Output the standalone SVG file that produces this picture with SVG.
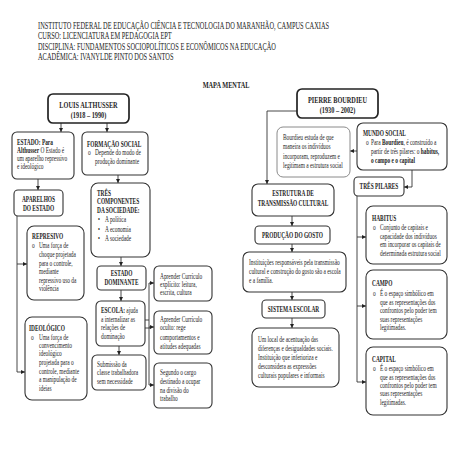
<svg xmlns="http://www.w3.org/2000/svg" width="452" height="452" viewBox="0 0 452 452">
<style>
.t{font-family:"Liberation Serif","Times New Roman",serif;font-size:7.5px;fill:#1e1e1e}
.h{font-family:"Liberation Serif","Times New Roman",serif;font-size:9.5px;fill:#1e1e1e}
.ti{font-family:"Liberation Serif","Times New Roman",serif;font-size:8.5px;font-weight:bold;fill:#1e1e1e}
.b{font-weight:bold}
.m{text-anchor:middle}
.box{fill:#fff;stroke:#333;stroke-width:1.1}
.root{fill:#fff;stroke:#222;stroke-width:1.7}
.lite{fill:#fff;stroke:#8a8a8a;stroke-width:1}
.c{fill:none;stroke:#333;stroke-width:0.9}
.ca{fill:none;stroke:#333;stroke-width:0.9;marker-end:url(#ah)}
</style>
<defs>
<marker id="ah" viewBox="0 0 6 6" refX="6" refY="3" markerWidth="4" markerHeight="4" markerUnits="userSpaceOnUse" orient="auto"><path d="M0,0 L6,3 L0,6 z" fill="#222"/></marker>
</defs>
<rect width="452" height="452" fill="#fff"/>

<g id="header">
<text class="h" transform="translate(38,0) scale(0.675,1)"><tspan x="0" y="29">INSTITUTO FEDERAL DE EDUCAÇÃO CIÊNCIA E TECNOLOGIA DO MARANHÃO, CAMPUS CAXIAS</tspan><tspan x="0" y="39.5">CURSO: LICENCIATURA EM PEDAGOGIA EPT</tspan><tspan x="0" y="50">DISCIPLINA: FUNDAMENTOS SOCIOPOLÍTICOS E ECONÔMICOS NA EDUCAÇÃO</tspan><tspan x="0" y="60.5">ACADÊMICA: IVANYLDE PINTO DOS SANTOS</tspan></text>
<text class="ti m" transform="translate(226,0) scale(0.74,1)" x="0" y="88">MAPA MENTAL</text>
</g>

<g id="connectors">
<line class="ca" x1="61" y1="123" x2="61" y2="132"/>
<line class="ca" x1="107" y1="123" x2="107" y2="132"/>
<line class="ca" x1="38" y1="179" x2="38" y2="190"/>
<line class="ca" x1="118" y1="175" x2="118" y2="183"/>
<line class="c" x1="17" y1="216" x2="17" y2="372"/>
<line class="ca" x1="17" y1="264" x2="27" y2="264"/>
<line class="ca" x1="17" y1="372" x2="25" y2="372"/>
<line class="ca" x1="121" y1="257" x2="121" y2="266"/>
<line class="ca" x1="121" y1="290" x2="121" y2="301"/>
<line class="ca" x1="119" y1="346" x2="119" y2="355"/>
<polyline class="c" points="145,320 149,320"/>
<polyline class="c" points="145,328 151,328"/>
<line class="c" x1="149" y1="283" x2="149" y2="385"/>
<line class="ca" x1="149" y1="283" x2="154" y2="283"/>
<line class="ca" x1="149" y1="327" x2="154" y2="327"/>
<line class="ca" x1="149" y1="385" x2="154" y2="385"/>
<polyline class="ca" points="297,111 267,111 267,184"/>
<line class="ca" x1="357" y1="151" x2="350" y2="151"/>
<polyline class="ca" points="412,170 412,187 404,187"/>
<line class="ca" x1="292" y1="216" x2="292" y2="226"/>
<line class="ca" x1="292" y1="244" x2="292" y2="252"/>
<line class="ca" x1="292" y1="292" x2="292" y2="300"/>
<line class="ca" x1="292" y1="318" x2="292" y2="328"/>
<line class="c" x1="357" y1="196" x2="357" y2="382"/>
<line class="ca" x1="357" y1="237" x2="366" y2="237"/>
<line class="ca" x1="357" y1="306" x2="366" y2="306"/>
<line class="ca" x1="357" y1="382" x2="366" y2="382"/>
</g>

<g id="althusser">
<rect class="root" x="48" y="94" width="81" height="29" rx="5"/>
<text class="ti m" transform="translate(88.5,0) scale(0.74,1)"><tspan x="0" y="108">LOUIS ALTHUSSER</tspan><tspan x="0" y="118">(1918 – 1990)</tspan></text>
</g>

<g id="estado">
<rect class="box" x="12" y="132" width="62" height="47" rx="5"/>
<text class="t" transform="translate(17,0) scale(0.72,1)"><tspan x="0" y="145.5" class="b">ESTADO: Para</tspan><tspan x="0" y="153.5"><tspan class="b">Althusser</tspan> O Estado é</tspan><tspan x="0" y="161.5">um aparelho repressivo</tspan><tspan x="0" y="169.5">e ideológico</tspan></text>
</g>

<g id="formacao">
<rect class="box" x="82" y="132" width="66" height="43" rx="5"/>
<text class="t" transform="translate(87,0) scale(0.72,1)"><tspan x="0" y="147.5" class="b">FORMAÇÃO SOCIAL</tspan><tspan x="1.4" y="155.5">o</tspan><tspan x="11.1" y="155.5">Depende do modo de</tspan><tspan x="11.1" y="164.5">produção dominante</tspan></text>
</g>

<g id="aparelhos">
<rect class="box" x="14" y="190" width="49" height="26" rx="4"/>
<text class="t b m" transform="translate(38.5,0) scale(0.72,1)"><tspan x="0" y="202.5">APARELHOS</tspan><tspan x="0" y="211">DO ESTADO</tspan></text>
</g>

<g id="represivo">
<rect class="box" x="27" y="226" width="57" height="74" rx="7"/>
<text class="t" transform="translate(32,0) scale(0.72,1)"><tspan x="0" y="239.5" class="b">REPRESIVO</tspan><tspan x="0" y="248.5">o</tspan><tspan x="9.7" y="248.5">Uma força de</tspan><tspan x="9.7" y="257.5">choque projetada</tspan><tspan x="9.7" y="266">para o controle,</tspan><tspan x="9.7" y="274.5">mediante</tspan><tspan x="9.7" y="283.5">repressivo uso da</tspan><tspan x="9.7" y="291.5">violência</tspan></text>
</g>

<g id="ideologico">
<rect class="box" x="25" y="317" width="62" height="83" rx="7"/>
<text class="t" transform="translate(29,0) scale(0.72,1)"><tspan x="0" y="331.5" class="b">IDEOLÓGICO</tspan><tspan x="2.8" y="340.5">o</tspan><tspan x="13.9" y="340.5">Uma força de</tspan><tspan x="13.9" y="348.5">convencimento</tspan><tspan x="13.9" y="356.5">ideológico</tspan><tspan x="13.9" y="365.5">projetada para o</tspan><tspan x="13.9" y="374.5">controle, mediante</tspan><tspan x="13.9" y="382.5">a manipulação de</tspan><tspan x="13.9" y="391.5">ideias</tspan></text>
</g>

<g id="componentes">
<rect class="box" x="91" y="183" width="59" height="74" rx="7"/>
<text class="t" transform="translate(97,0) scale(0.72,1)"><tspan x="0" y="196.5" class="b">TRÊS</tspan><tspan x="0" y="204.5" class="b">COMPONENTES</tspan><tspan x="0" y="213.5" class="b">DA SOCIEDADE:</tspan><tspan x="1.4" y="222.5">•</tspan><tspan x="11.1" y="222.5">A política</tspan><tspan x="1.4" y="232">•</tspan><tspan x="11.1" y="232">A economia</tspan><tspan x="1.4" y="241.5">•</tspan><tspan x="11.1" y="241.5">A sociedade</tspan></text>
</g>

<g id="estado-dominante">
<rect class="box" x="97" y="266" width="49" height="24" rx="4"/>
<text class="t b m" transform="translate(121.5,0) scale(0.72,1)"><tspan x="0" y="276.5">ESTADO</tspan><tspan x="0" y="285.5">DOMINANTE</tspan></text>
</g>

<g id="escola">
<rect class="box" x="96" y="301" width="49" height="45" rx="5"/>
<text class="t" transform="translate(101,0) scale(0.72,1)"><tspan x="0" y="313.5"><tspan class="b">ESCOLA:</tspan> ajuda</tspan><tspan x="0" y="322.5">a internalizar as</tspan><tspan x="0" y="330.5">relações de</tspan><tspan x="0" y="339.5">dominação</tspan></text>
</g>

<g id="submissao">
<rect class="box" x="92" y="355" width="54" height="35" rx="5"/>
<text class="t" transform="translate(97,0) scale(0.72,1)"><tspan x="0" y="367.5">Submissão da</tspan><tspan x="0" y="375.5">classe trabalhadora</tspan><tspan x="0" y="384.5">sem necessidade</tspan></text>
</g>

<g id="explicito">
<rect class="box" x="154" y="266" width="58" height="35" rx="5"/>
<text class="t" transform="translate(160,0) scale(0.72,1)"><tspan x="0" y="279.5">Aprender Currículo</tspan><tspan x="0" y="287.5">explícito: leitura,</tspan><tspan x="0" y="295.5">escrita, cultura</tspan></text>
</g>

<g id="oculto">
<rect class="box" x="154" y="311" width="58" height="43" rx="5"/>
<text class="t" transform="translate(160,0) scale(0.72,1)"><tspan x="0" y="322.5">Aprender Currículo</tspan><tspan x="0" y="330.5">oculto: rege</tspan><tspan x="0" y="340.5">comportamentos e</tspan><tspan x="0" y="349.5">atitudes adequadas</tspan></text>
</g>

<g id="segundo">
<rect class="box" x="154" y="363" width="58" height="45" rx="5"/>
<text class="t" transform="translate(160,0) scale(0.72,1)"><tspan x="0" y="375.5">Segundo o cargo</tspan><tspan x="0" y="384.5">destinado a ocupar</tspan><tspan x="0" y="393.5">na divisão do</tspan><tspan x="0" y="401.5">trabalho</tspan></text>
</g>

<g id="bourdieu">
<rect class="root" x="297" y="89" width="81" height="29" rx="5"/>
<text class="ti m" transform="translate(337.5,0) scale(0.74,1)"><tspan x="0" y="103">PIERRE BOURDIEU</tspan><tspan x="0" y="113">(1930 – 2002)</tspan></text>
</g>

<g id="estuda">
<rect class="lite" x="277" y="127" width="73" height="50" rx="6"/>
<text class="t" transform="translate(283,0) scale(0.72,1)"><tspan x="0" y="140.5">Bourdieu estuda de que</tspan><tspan x="0" y="149.5">maneira os indivíduos</tspan><tspan x="0" y="159.5">incorporam, reproduzem e</tspan><tspan x="0" y="168.5">legitimam a estrutura social</tspan></text>
</g>

<g id="mundo">
<rect class="box" x="357" y="123" width="90" height="47" rx="6"/>
<text class="t" transform="translate(363,0) scale(0.72,1)"><tspan x="0" y="136.5" class="b">MUNDO SOCIAL</tspan><tspan x="4.2" y="145.5">o</tspan><tspan x="11.1" y="145.5">Para <tspan class="b">Bourdieu</tspan>, é construído a</tspan><tspan x="11.1" y="154.5">partir de três pilares: o <tspan class="b">habitus,</tspan></tspan><tspan x="11.1" y="163.5" class="b">o campo e o capital</tspan></text>
</g>

<g id="pilares">
<rect class="box" x="354" y="177" width="50" height="19" rx="4"/>
<text class="t b m" transform="translate(379,0) scale(0.72,1)" x="0" y="189.5">TRÊS PILARES</text>
</g>

<g id="estrutura">
<rect class="box" x="252" y="184" width="82" height="32" rx="6"/>
<text class="t b m" transform="translate(293,0) scale(0.72,1)"><tspan x="0" y="196.5">ESTRUTURA DE</tspan><tspan x="0" y="206.5">TRANSMISSÃO CULTURAL</tspan></text>
</g>

<g id="producao">
<rect class="box" x="255" y="226" width="75" height="18" rx="4"/>
<text class="t b m" transform="translate(292.5,0) scale(0.72,1)" x="0" y="238.5">PRODUÇÃO DO GOSTO</text>
</g>

<g id="instituicoes">
<rect class="box" x="243" y="252" width="103" height="40" rx="6"/>
<text class="t" transform="translate(249,0) scale(0.72,1)"><tspan x="0" y="265.5">Instituições responsáveis pela transmissão</tspan><tspan x="0" y="274.5">cultural e construção do gosto são a escola</tspan><tspan x="0" y="283.5">e a família.</tspan></text>
</g>

<g id="sistema">
<rect class="box" x="262" y="300" width="63" height="18" rx="4"/>
<text class="t b m" transform="translate(293.5,0) scale(0.72,1)" x="0" y="312.5">SISTEMA ESCOLAR</text>
</g>

<g id="local">
<rect class="box" x="252" y="328" width="87" height="59" rx="7"/>
<text class="t" transform="translate(258,0) scale(0.72,1)"><tspan x="0" y="342.5">Um local de acentuação das</tspan><tspan x="0" y="351.5">diferenças e desigualdades sociais.</tspan><tspan x="0" y="360.5">Instituição que inferioriza e</tspan><tspan x="0" y="369.5">desconsidera as expressões</tspan><tspan x="0" y="378.5">culturais populares e informais</tspan></text>
</g>

<g id="habitus">
<rect class="box" x="366" y="206" width="81" height="58" rx="7"/>
<text class="t" transform="translate(372,0) scale(0.72,1)"><tspan x="0" y="221.5" class="b">HABITUS</tspan><tspan x="1.4" y="230.5">o</tspan><tspan x="11.1" y="230.5">Conjunto de capitais e</tspan><tspan x="11.1" y="239.5">capacidade dos indivíduos</tspan><tspan x="11.1" y="247.5">em incorporar os capitais de</tspan><tspan x="11.1" y="256.5">determinada estrutura social</tspan></text>
</g>

<g id="campo">
<rect class="box" x="366" y="270" width="81" height="69" rx="7"/>
<text class="t" transform="translate(372,0) scale(0.72,1)"><tspan x="0" y="286.5" class="b">CAMPO</tspan><tspan x="1.4" y="296.5">o</tspan><tspan x="11.1" y="296.5">É o espaço simbólico em</tspan><tspan x="11.1" y="305">que as representações dos</tspan><tspan x="11.1" y="313.5">confrontos pelo poder tem</tspan><tspan x="11.1" y="322.5">suas representações</tspan><tspan x="11.1" y="330.5">legitimadas.</tspan></text>
</g>

<g id="capital">
<rect class="box" x="366" y="347" width="81" height="68" rx="7"/>
<text class="t" transform="translate(372,0) scale(0.72,1)"><tspan x="0" y="362.5" class="b">CAPITAL</tspan><tspan x="1.4" y="371.5">o</tspan><tspan x="11.1" y="371.5">É o espaço simbólico em</tspan><tspan x="11.1" y="380.5">que as representações dos</tspan><tspan x="11.1" y="388.5">confrontos pelo poder tem</tspan><tspan x="11.1" y="396.5">suas representações</tspan><tspan x="11.1" y="405.5">legitimadas.</tspan></text>
</g>
</svg>
